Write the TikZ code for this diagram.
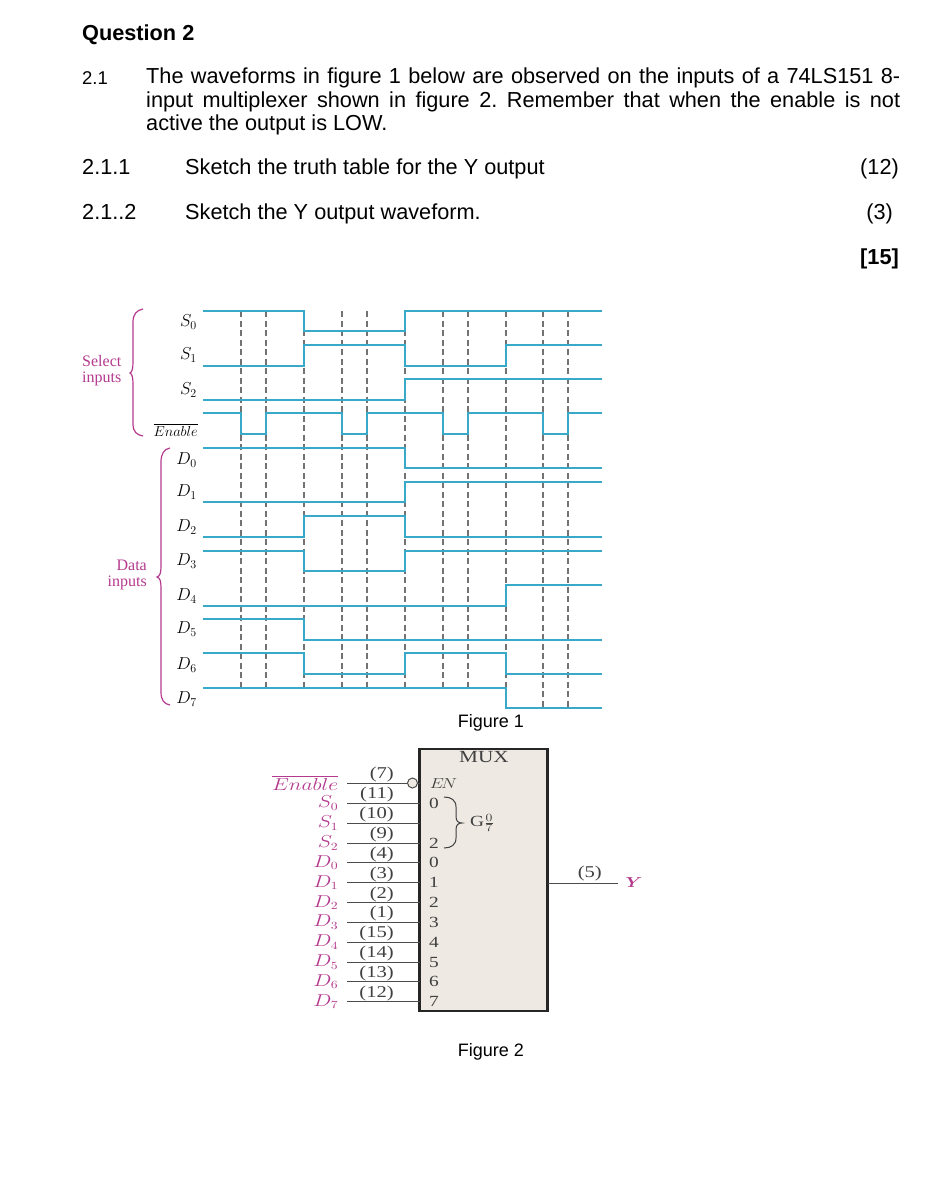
\documentclass[tikz,border=0pt]{standalone}
\usepackage[no-math]{fontspec}
\usepackage{amsmath}
\usepackage{graphicx}
\setmainfont{Liberation Sans}
\newfontfamily\figfont{Liberation Serif}
\usetikzlibrary{positioning}
\definecolor{wavecol}{HTML}{38A9C9}
\definecolor{inkcol}{HTML}{B43A8E}
\definecolor{muxcol}{HTML}{EEE9E2}
\newcommand{\wide}[1]{\scalebox{1.25}[1]{#1}}
\tikzset{
    bodytext/.style={anchor=base west, inner sep=0pt, font=\fontsize{21.7}{23.5}\selectfont},
    smalltext/.style={anchor=base west, inner sep=0pt, font=\fontsize{18.5}{23.5}\selectfont},
    caption/.style={anchor=base, inner sep=0pt, font=\fontsize{18}{20}\selectfont},
    wave/.style={draw=wavecol, line width=2pt},
    tick/.style={draw=black!55, line width=1.2pt, dash pattern=on 6pt off 3.5pt},
    curly/.style={draw=inkcol, line width=1.2pt},
    siglabel/.style={anchor=east, inner sep=0pt, font=\fontsize{16.5}{17}\selectfont},
    grouplabel/.style={inner sep=0pt, text=inkcol, align=left, font=\figfont\fontsize{16}{16}\selectfont},
    pinlabel/.style={anchor=east, inner xsep=8.5pt, inner ysep=0pt, text=inkcol, font=\fontsize{16}{17}\selectfont},
    pinnum/.style={anchor=east, inner sep=0pt, text=black!75, font=\figfont\fontsize{16.5}{17}\selectfont},
    muxtext/.style={inner sep=0pt, text=black!75, font=\figfont\fontsize{15.5}{16}\selectfont},
    wire/.style={draw=black!70, line width=1pt}
}

\begin{document}
\begin{tikzpicture}[x=1pt,y=-1pt]
    \useasboundingbox (0,0) rectangle (924,1189);

    % question text
    \node[bodytext, font=\bfseries\fontsize{21.7}{23.5}\selectfont] (title) at (82,40) {Question 2};
    \node[smalltext] (q21) at (82,84) {2.1};
    \node[bodytext, text width=754pt, align=justify, anchor=north west] (para) at (146,68)
        {\frenchspacing The waveforms in figure 1 below are observed on the inputs of a 74LS151 8-\linebreak
         input multiplexer shown in figure 2. Remember that when the enable is not\linebreak
         active the output is LOW.};
    \node[bodytext] (q211) at (82,174) {2.1.1};
    \node[bodytext] (a211) at (185,174) {Sketch the truth table for the Y output};
    \node[bodytext, anchor=base east] (m211) at (899,174) {(12)};
    \node[bodytext] (q212) at (82,219) {2.1..2};
    \node[bodytext] (a212) at (185,219) {Sketch the Y output waveform.};
    \node[bodytext, anchor=base east] (m212) at (893,219) {(3)};
    \node[bodytext, anchor=base east, font=\bfseries\fontsize{21.7}{23.5}\selectfont] (total) at (899,264) {[15]};

    % dashed time marks
    \foreach \t in {241,266,304,342,367,405,443,468}
        \draw[tick] (\t,311) -- (\t,687);
    \foreach \t in {506,543,568}
        \draw[tick] (\t,311) -- (\t,708);

    % select inputs
    \draw[wave] (203,311) -| (304,331) -| (405,311) -- (602,311);
    \draw[wave] (203,366) -| (304,345) -| (405,366) -| (506,345) -- (602,345);
    \draw[wave] (203,400) -| (405,379) -- (602,379);
    \draw[wave] (203,413) -| (241,434) -| (266,413) -| (342,434) -| (367,413)
        -| (443,434) -| (468,413) -| (543,434) -| (568,413) -- (602,413);

    % data inputs
    \draw[wave] (203,448) -| (405,468) -- (602,468);
    \draw[wave] (203,502) -| (405,482) -- (602,482);
    \draw[wave] (203,537) -| (304,516) -| (405,537) -- (602,537);
    \draw[wave] (203,551) -| (304,571) -| (405,551) -- (602,551);
    \draw[wave] (203,606) -| (506,585) -- (602,585);
    \draw[wave] (203,619) -| (304,640) -- (602,640);
    \draw[wave] (203,653) -| (304,674) -| (405,653) -| (506,674) -- (602,674);
    \draw[wave] (203,688) -| (506,708) -- (602,708);

    % signal names
    \foreach \sig/\txt/\y in {S0/S_0/322,S1/S_1/355,S2/S_2/390,
        D0/D_0/460,D1/D_1/492,D2/D_2/527,D3/D_3/561,D4/D_4/596,D5/D_5/629,D6/D_6/665,D7/D_7/699}
        \node[siglabel] (L\sig) at (197,\y) {$\txt$};
    \node[siglabel, font=\fontsize{14.3}{15}\selectfont] (LEN) at (198,430) {$\overline{Enable}$};

    % group braces
    \draw[curly] (143,309) .. controls (137,310) and (133,314) .. (133,322) -- (133,362)
        .. controls (133,369) and (132,372) .. (130,373) .. controls (132,374) and (133,377) .. (133,384)
        -- (133,424) .. controls (133,432) and (137,435) .. (143,436);
    \draw[curly] (170,448) .. controls (164,449) and (161,454) .. (161,462) -- (161,566)
        .. controls (161,573) and (160,576) .. (157,577) .. controls (160,578) and (161,581) .. (161,588)
        -- (161,692) .. controls (161,700) and (164,704) .. (170,705);
    \node[grouplabel, anchor=west] (select) at (82,371) {Select\\inputs};
    \node[grouplabel, anchor=east, align=right] (data) at (147,575) {Data\\inputs};

    \node[caption] (fig1) at (491,727) {Figure 1};

    % multiplexer block
    \node[draw=black!85, fill=muxcol, line width=2.5pt, minimum width=128pt, minimum height=262pt,
        inner sep=0pt, outer sep=0pt] (mux) at (483.5,880) {};
    \node[muxtext, font=\figfont\fontsize{17}{17}\selectfont] (muxname) at (484,757) {\wide{MUX}};
    \node[muxtext] (en) at (443.5,784) {\wide{$E\!N$}};

    % input pins
    \foreach \pin/\txt/\num/\y/\idx in {EN/\overline{Enable}/(7)/783/,
        S0/S_0/(11)/803/0,S1/S_1/(10)/823/,S2/S_2/(9)/843/2,
        D0/D_0/(4)/862.7/0,D1/D_1/(3)/882.7/1,D2/D_2/(2)/902.5/2,D3/D_3/(1)/922/3,
        D4/D_4/(15)/942/4,D5/D_5/(14)/962/5,D6/D_6/(13)/981.7/6,D7/D_7/(12)/1001.5/7}{
        \node[pinlabel] (P\pin) at (347,\y) {\wide{$\txt$}};
        \draw[wire] (P\pin.east) -- (P\pin.east -| mux.west);
        \node[pinnum] (N\pin) at (394,\y-8) {\wide{\num}};
        \node[muxtext] (I\pin) at (434,\y) {\wide{\idx}};
    }
    \node[draw=black!70, fill=muxcol, circle, line width=1pt, minimum size=10pt, inner sep=0pt] (bubble) at (412.5,783) {};

    % enable group brace
    \draw[draw=black!75, line width=1pt] (444,797) .. controls (451,797) and (456,800) .. (456,807) -- (456,816)
        .. controls (456,821) and (458,823) .. (462,823) .. controls (458,823) and (456,825) .. (456,830)
        -- (456,838) .. controls (456,845) and (451,848) .. (444,848);
    \node[muxtext, anchor=west] (group) at (470,823) {\wide{G$\genfrac{}{}{0.4pt}{1}{0}{7}$}};

    % output pin
    \node[inner sep=0pt, text=inkcol, font=\fontsize{14}{15}\selectfont] (Y) at (634,883) {\wide{$\boldsymbol{Y}$}};
    \draw[wire] (mux.east |- Y) -- ([xshift=-7pt]Y.west);
    \node[pinnum] (Nout) at (602,874) {\wide{(5)}};

    \node[caption] (fig2) at (491,1056) {Figure 2};
\end{tikzpicture}
\end{document}
